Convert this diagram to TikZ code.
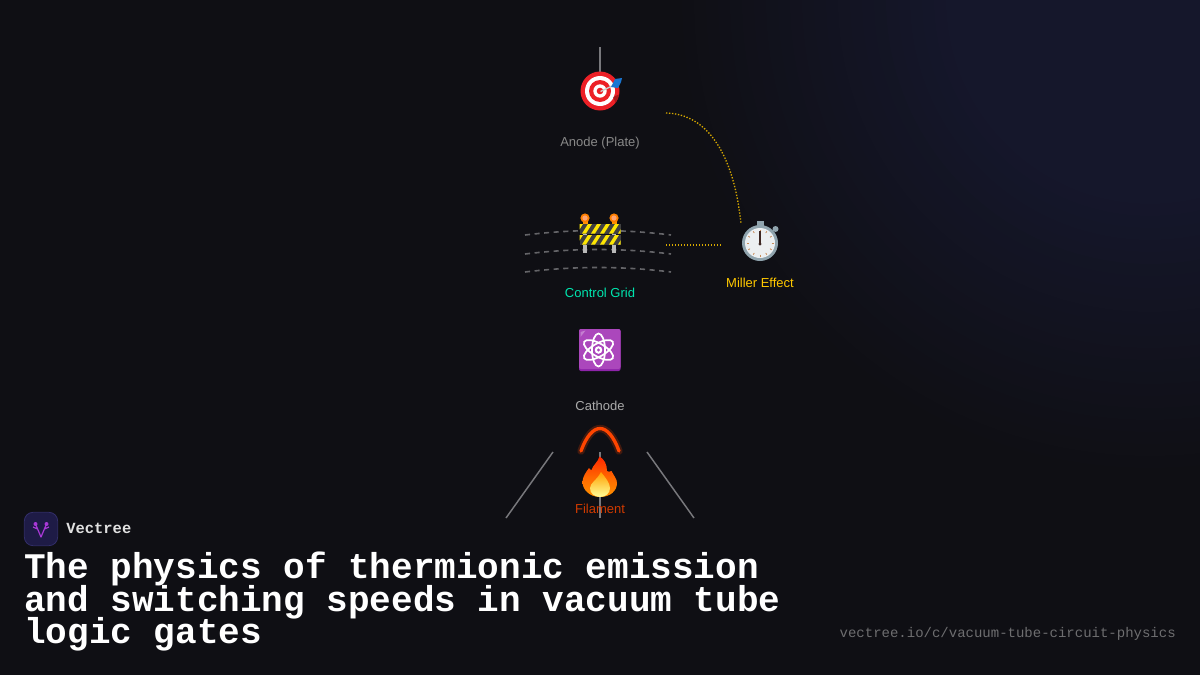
\documentclass[tikz,border=0pt]{standalone}
\usepackage{fontspec}
\setmainfont{Liberation Sans}
\setmonofont{Liberation Mono}
\usepackage{xcolor}
\usetikzlibrary{arrows.meta,positioning,calc}
\definecolor{bgdark}   {RGB}{15,15,20}
\definecolor{bgglow}   {RGB}{21,23,43}
\definecolor{wiregray} {RGB}{120,120,124}
\definecolor{gridgray} {RGB}{100,100,104}
\definecolor{milleramb}{RGB}{255,200,0}
\definecolor{linkamb}  {RGB}{214,168,0}
\definecolor{gridgreen}{RGB}{0,230,175}
\definecolor{fireorange}{RGB}{255,69,0}
\definecolor{firelabel}{RGB}{208,58,0}
\definecolor{targetred}{RGB}{236,32,38}
\definecolor{dartblue} {RGB}{25,118,210}
\definecolor{atompurple}{RGB}{171,71,188}
\definecolor{atomdark} {RGB}{142,36,170}
\definecolor{rimgray}  {RGB}{144,164,174}
\definecolor{faceinner}{RGB}{236,239,241}
\definecolor{handbrown}{RGB}{62,39,35}
\definecolor{tickbrown}{RGB}{200,140,90}
\definecolor{logofill} {RGB}{30,27,70}
\definecolor{logodraw} {RGB}{50,46,105}
\definecolor{logomark} {RGB}{168,56,214}
\definecolor{anodetext}{RGB}{136,136,136}
\definecolor{cathtext} {RGB}{170,170,170}
\definecolor{urltext}  {RGB}{110,110,112}
\newcommand{\titlefont}{\ttfamily\bfseries\fontsize{27}{24.3}\selectfont\lineskiplimit=-20pt\relax}
\tikzset{
  x=0.75pt, y=-0.75pt,
  iconspot/.style={minimum size=31.5pt, inner sep=0pt},
  partlabel/.style={font=\fontsize{9.75}{11}\selectfont, inner sep=0pt, text height=7pt, text depth=2pt},
  wire/.style={draw=wiregray, line width=1.1pt},
  gridwire/.style={draw=gridgray, line width=1.2pt, dash pattern=on 3.8pt off 3.4pt},
  millerlink/.style={draw=linkamb, line width=1pt, dash pattern=on 1pt off 1.25pt},
  heatglow/.style={draw=fireorange, line width=#1, opacity=0.22, line cap=round},
  targeticon/.pic={
    \fill[targetred] (0,0) circle (19.5);
    \fill[white] (0,0) circle (15);
    \fill[targetred] (0,0) circle (11);
    \fill[white] (0,0) circle (6.7);
    \fill[targetred] (0,0) circle (3.3);
    \fill[black!45!targetred, opacity=.6] (15.5,11.8) arc (37:10:19.5) -- (13,6) -- cycle;
    \draw[gray!40, line width=1pt] (0.5,0.5) -- (12,-5);
    \fill[dartblue] (11,-4) -- (15,-12) -- (22,-13) -- (21,-9) -- (18,-3) -- cycle;
  },
  barriericon/.pic={
    \foreach \px in {-15,14}{
      \fill[gray!55] (\px-2.3,0) rectangle (\px+2.3,20);
      \fill[orange!85!yellow] (\px-2.5,-12) rectangle (\px+2.5,-8);
      \fill[orange] (\px,-15) circle (4.6);
      \fill[red!30!orange!55!white] (\px,-15) circle (2.6);
    }
    \foreach \py in {-9,2}{
      \fill[black!75] (-20.5,\py) rectangle (20.5,\py+9.5);
      \begin{scope}
        \clip (-20.5,\py) rectangle (20.5,\py+9.5);
        \foreach \sx in {-27,-18,...,27}
          \fill[yellow!90!orange] (\sx,\py+9.5) -- (\sx+4,\py+9.5) -- (\sx+10,\py) -- (\sx+6,\py) -- cycle;
      \end{scope}
    }
  },
  stopwatchicon/.pic={
    \fill[rimgray] (-3.5,-22) rectangle (3.5,-16);
    \fill[rimgray] (15.5,-14) circle (3);
    \fill[rimgray] (0,0) circle (18);
    \fill[faceinner] (0,0) circle (15);
    \foreach \ang in {0,30,...,330}
      \draw[tickbrown, line width=0.6pt] (\ang:11.5) -- (\ang:13.5);
    \draw[handbrown, line width=1pt] (0,2) -- (0,-12);
    \fill[handbrown] (0,1) circle (1.6);
  },
  atomicon/.pic={
    \fill[atomdark, rounded corners=1.5pt] (-21,-21) rectangle (20.5,21);
    \fill[atompurple, rounded corners=1.5pt] (-21,-21) rectangle (20.5,19);
    \fill[white, opacity=.3] (-19.5,-13) -- (-19.5,-18) -- (-14.5,-19.5) -- cycle;
    \foreach \ang in {0,60,120}
      \draw[white, line width=1.3pt, shift={(-1.5,0)}, rotate=\ang] (0,0) ellipse (6.5 and 16.5);
    \fill[white] (-1.5,0) circle (3.8);
    \fill[atompurple] (-1.5,0) circle (1.7);
  },
  flameicon/.pic={
    \shade[top color=red!70!orange, bottom color=orange!85!yellow, middle color=orange!80!red]
      (0,20) .. controls (-10,20) and (-17.5,13) .. (-17.5,5)
      .. controls (-17.5,0) and (-14,-5) .. (-11,-9)
      .. controls (-10.5,-8) and (-9.5,-7) .. (-8.5,-7)
      .. controls (-7,-12) and (-2,-15) .. (-0.5,-20.5)
      .. controls (4,-18) and (7,-13) .. (7,-6)
      .. controls (8,-5) and (10,-5) .. (11.5,-6)
      .. controls (14,-1) and (17,2) .. (17,6)
      .. controls (17,14) and (10,20) .. (0,20) -- cycle;
    \shade[top color=orange!75!yellow, bottom color=yellow!40!white]
      (0,20) .. controls (-6,20) and (-10,16) .. (-10,11)
      .. controls (-10,6) and (-3,3) .. (1,-5)
      .. controls (5,0) and (10,6) .. (10,11)
      .. controls (10,16) and (6,20) .. (0,20) -- cycle;
  },
  logomark/.pic={
    \draw[logomark, line width=0.9pt, line join=round]
      (-5.5,-5) -- (0,8) -- (5.5,-5) (-8,-2) -- (-3.5,0) (8,-2) -- (3.5,0);
    \fill[logomark] (-5.5,-5) circle (2) (5.5,-5) circle (2);
  },
}
\begin{document}
\begin{tikzpicture}
  \useasboundingbox (0,0) rectangle (1200,675);
  \fill[bgdark] (0,0) rectangle (1200,675);
  \begin{scope}
    \clip (0,0) rectangle (1200,675);
    \foreach \rad in {480,468,...,200}{
      \pgfmathtruncatemacro{\glowmix}{(480-\rad)/2.8}
      \fill[bgglow!\glowmix!bgdark] (1150,0) circle (\rad);
    }
  \end{scope}

  \node[iconspot] (anode)    at (600,91)  {};
  \node[iconspot] (grid)     at (600,233) {};
  \node[iconspot] (miller)   at (760,243) {};
  \node[iconspot] (cathode)  at (600,350) {};
  \node[iconspot] (filament) at (600,477) {};

  \coordinate (anodetop)  at (600,47);
  \coordinate (miltop)    at (666,113);
  \coordinate (milbot)    at (741,224);
  \coordinate (gridout)   at (666,245);
  \coordinate (gridin)    at (721,245);
  \coordinate (heatl)     at (581,451);
  \coordinate (heatr)     at (619,451);
  \coordinate (legatop)   at (553,452);
  \coordinate (legabot)   at (506,518);
  \coordinate (legbtop)   at (600,452);
  \coordinate (legbbot)   at (600,518);
  \coordinate (legctop)   at (647,452);
  \coordinate (legcbot)   at (694,518);

  \draw[wire] (anodetop) -- (anode.center);
  \draw[wire] (legatop) -- (legabot);
  \draw[wire] (legbtop) -- (legbbot);
  \draw[wire] (legctop) -- (legcbot);
  \foreach \gy in {235,254,272}
    \draw[gridwire] (525,\gy) .. controls (575,\gy-6) and (622,\gy-6) .. (671,\gy);
  \draw[millerlink] (miltop) .. controls (708,114) and (734,155) .. (milbot);
  \draw[millerlink] (gridout) -- (gridin);

  \draw[heatglow=5.5pt] (heatl) .. controls (592,421) and (608,421) .. (heatr);
  \draw[fireorange, line width=2.5pt, line cap=round] (heatl) .. controls (592,421) and (608,421) .. (heatr);

  \pic at (anode) {targeticon};
  \pic at (grid) {barriericon};
  \pic at (miller) {stopwatchicon};
  \pic at (cathode) {atomicon};
  \pic at (filament) {flameicon};

  \node[partlabel, text=anodetext, below=18.5pt of anode] (anodelab) {Anode (Plate)};
  \node[partlabel, text=gridgreen, below=25pt of grid] (gridlab) {Control Grid};
  \node[partlabel, text=milleramb, below=10pt of miller] (millerlab) {Miller Effect};
  \node[partlabel, text=cathtext, below=22pt of cathode] (cathodelab) {Cathode};
  \node[partlabel, text=firelabel, below=4.3pt of filament] (filamentlab) {Filament};

  \node[draw=logodraw, fill=logofill, rounded corners=6.5pt, minimum size=25pt, inner sep=0pt, line width=0.6pt] (logo) at (41,529) {};
  \pic at (logo) {logomark};
  \node[font=\ttfamily\bfseries\fontsize{11.6}{14}\selectfont, text=white!88!black, inner sep=0pt, right=6pt of logo, yshift=0.7pt] (brand) {Vectree};
  \node[font=\titlefont, text=white, align=left, inner sep=0pt, anchor=north west] (title) at (24,552)
    {The physics of thermionic emission\\and switching speeds in vacuum tube\\logic gates};
  \node[font=\ttfamily\fontsize{10.5}{12}\selectfont, text=urltext, inner sep=0pt, anchor=base east] (url) at (1176,637) {vectree.io/c/vacuum-tube-circuit-physics};
\end{tikzpicture}
\end{document}
